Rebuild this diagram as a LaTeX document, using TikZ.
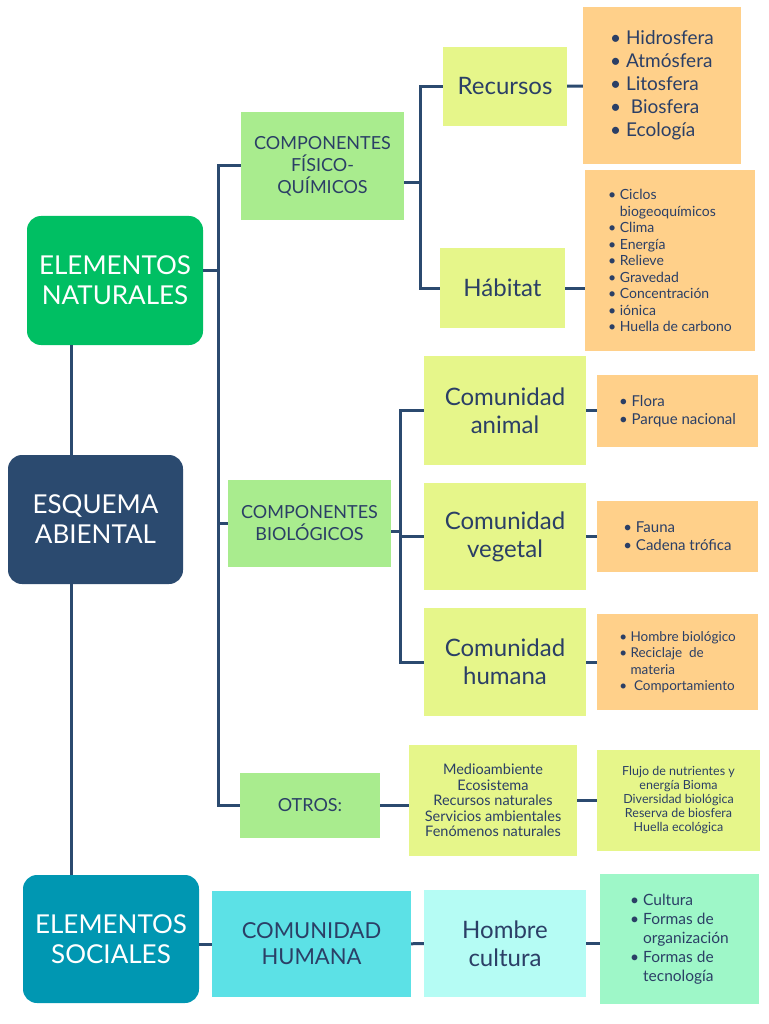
\documentclass[tikz,border=0pt]{standalone}
\usepackage{fontspec}
\setmainfont{Lato}
\usetikzlibrary{positioning}
\definecolor{navy}{HTML}{2B4A6F}
\definecolor{verde}{HTML}{00BF63}
\definecolor{teal}{HTML}{0097B2}
\definecolor{lgreen}{HTML}{A9EC8E}
\definecolor{lyel}{HTML}{E6F68A}
\definecolor{naranja}{HTML}{FFD08A}
\definecolor{cian}{HTML}{5CE1E6}
\definecolor{pcian}{HTML}{B5FCF4}
\definecolor{menta}{HTML}{9EF7C8}
\definecolor{txt}{HTML}{2B3F66}
\newcommand{\bi}{\textbullet~}
\newcommand{\hi}{\hphantom{\textbullet~}}
\tikzset{
  caja/.style={draw=none,inner sep=2pt,align=center,text=txt},
  mayor/.style={caja,rounded corners=14pt,text=white,font=\fontsize{26}{30}\selectfont},
  lin/.style={draw=navy,line width=3pt}
}
\begin{document}
\begin{tikzpicture}[x=1pt,y=-1pt]
    \useasboundingbox (0,0) rectangle (768,1024);
    % cajas principales
    \node[mayor,fill=verde,minimum width=176pt,minimum height=129pt] (nat) at (115,280.5) {ELEMENTOS\\NATURALES};
    \node[mayor,fill=navy,minimum width=175pt,minimum height=129pt] (esq) at (95.5,519.5) {ESQUEMA\\ABIENTAL};
    \node[mayor,fill=teal,minimum width=176pt,minimum height=128pt] (soc) at (111,939) {ELEMENTOS\\SOCIALES};
    % componentes
    \node[caja,fill=lgreen,minimum width=163pt,minimum height=108pt,font=\fontsize{18}{22}\selectfont] (fis) at (322.5,166) {COMPONENTES\\FÍSICO-\\QUÍMICOS};
    \node[caja,fill=lgreen,minimum width=163pt,minimum height=87pt,font=\fontsize{18}{22}\selectfont] (bio) at (309.5,523.5) {COMPONENTES\\BIOLÓGICOS};
    \node[caja,fill=lgreen,minimum width=140pt,minimum height=65pt,font=\fontsize{18}{22}\selectfont] (otr) at (310,805.5) {OTROS:};
    % segundo nivel
    \node[caja,fill=lyel,minimum width=124pt,minimum height=79pt,font=\fontsize{24}{28}\selectfont] (rec) at (505,86.5) {Recursos};
    \node[caja,fill=lyel,minimum width=125pt,minimum height=80pt,font=\fontsize{24}{28}\selectfont] (hab) at (502.5,288) {Hábitat};
    \node[caja,fill=lyel,minimum width=162pt,minimum height=109pt,font=\fontsize{24}{28}\selectfont] (ani) at (505,410.5) {Comunidad\\animal};
    \node[caja,fill=lyel,minimum width=162pt,minimum height=107pt,font=\fontsize{24}{28}\selectfont] (veg) at (505,536.5) {Comunidad\\vegetal};
    \node[caja,fill=lyel,minimum width=162pt,minimum height=108pt,font=\fontsize{24}{28}\selectfont] (hum) at (505,662) {Comunidad\\humana};
    \node[caja,fill=lyel,minimum width=168pt,minimum height=111pt,font=\fontsize{14.5}{15.5}\selectfont] (med) at (493,800.5) {Medioambiente\\Ecosistema\\Recursos naturales\\Servicios ambientales\\Fenómenos naturales};
    \node[caja,fill=cian,minimum width=199pt,minimum height=106pt,font=\fontsize{22}{26}\selectfont] (chu) at (311.5,944) {COMUNIDAD\\HUMANA};
    \node[caja,fill=pcian,minimum width=162pt,minimum height=107pt,font=\fontsize{24}{28}\selectfont] (hcu) at (505,943.5) {Hombre\\cultura};
    % listas
    \node[caja,fill=naranja,minimum width=158pt,minimum height=157pt,align=left,font=\fontsize{19}{23}\selectfont] (l1) at (662,85.5) {\bi Hidrosfera\\\bi Atmósfera\\\bi Litosfera\\\bi\ Biosfera\\\bi Ecología};
    \node[caja,fill=naranja,minimum width=170pt,minimum height=181pt,align=left,font=\fontsize{14}{16.5}\selectfont] (l2) at (670,260.5) {\bi Ciclos\\\hi biogeoquímicos\\\bi Clima\\\bi Energía\\\bi Relieve\\\bi Gravedad\\\bi Concentración\\\bi iónica\\\bi Huella de carbono};
    \node[caja,fill=naranja,minimum width=161pt,minimum height=72pt,align=left,font=\fontsize{15}{18}\selectfont] (l3) at (677.5,411) {\bi Flora\\\bi Parque nacional};
    \node[caja,fill=naranja,minimum width=161pt,minimum height=71pt,align=left,font=\fontsize{15}{18}\selectfont] (l4) at (677.5,536.5) {\bi Fauna\\\bi Cadena trófica};
    \node[caja,fill=naranja,minimum width=161pt,minimum height=96pt,align=left,font=\fontsize{13.5}{16.5}\selectfont] (l5) at (677.5,662) {\bi Hombre biológico\\\bi Reciclaje\ \ de\\\hi materia\\\bi\ Comportamiento};
    \node[caja,fill=lyel,minimum width=163pt,minimum height=101pt,font=\fontsize{12.5}{14}\selectfont] (l6) at (678.5,800.5) {Flujo de nutrientes y\\energía Bioma\\Diversidad biológica\\Reserva de biosfera\\Huella ecológica};
    \node[caja,fill=menta,minimum width=159pt,minimum height=130pt,align=left,font=\fontsize{15.5}{19}\selectfont] (l7) at (679.5,939) {\bi Cultura\\\bi Formas de\\\hi organización\\\bi Formas de\\\hi tecnología};
    % conectores
    \coordinate (t1) at (218,270);
    \coordinate (t2) at (420,183);
    \coordinate (t3) at (400,531);
    \draw[lin] (nat.south -| 71,0) -- (esq.north -| 71,0);
    \draw[lin] (esq.south -| 71,0) -- (soc.north -| 71,0);
    \draw[lin] (nat.east |- t1) -- (t1);
    \draw[lin] (t1) |- (fis.west);
    \draw[lin] (t1) |- (bio.west);
    \draw[lin] (t1) |- (otr.west);
    \draw[lin] (fis.east |- t2) -- (t2);
    \draw[lin] (t2) |- (rec.west);
    \draw[lin] (t2) |- (hab.west);
    \draw[lin] (bio.east |- t3) -- (t3);
    \draw[lin] (t3) |- (ani.west);
    \draw[lin] (t3) |- (veg.west);
    \draw[lin] (t3) |- (hum.west);
    \draw[lin] (rec) -- (l1);
    \draw[lin] (hab) -- (hab -| l2.west);
    \draw[lin] (ani) -- (ani -| l3.west);
    \draw[lin] (veg) -- (l4);
    \draw[lin] (hum) -- (l5);
    \draw[lin] (otr) -- (otr -| med.west);
    \draw[lin] (med) -- (l6);
    \draw[lin] (soc.east |- chu) -- (chu);
    \draw[lin] (chu) -- (hcu);
    \draw[lin] (hcu) -- (hcu -| l7.west);
\end{tikzpicture}
\end{document}
